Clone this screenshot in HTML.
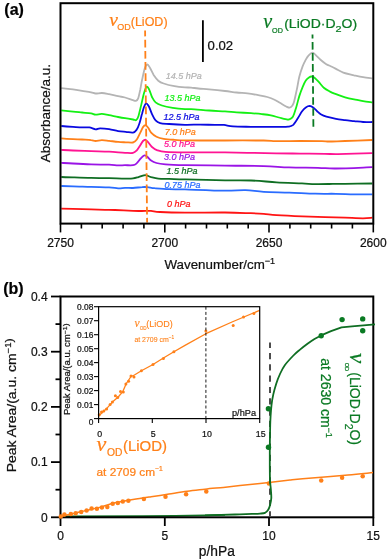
<!DOCTYPE html>
<html lang="en">
<head>
<meta charset="utf-8">
<title>Figure: IR spectra and peak areas</title>
<style>
html,body{margin:0;padding:0;background:#fff;}
body{width:388px;height:559px;overflow:hidden;}
svg{display:block;font-family:"Liberation Sans",Arial,Helvetica,sans-serif;color:#111;}
svg text{fill:currentColor;stroke:currentColor;stroke-width:.22px;}
</style>
</head>
<body>
<svg width="388" height="559" viewBox="0 0 388 559">
<rect x="0" y="0" width="388" height="559" fill="#ffffff"/>
<path d="M61.3,208.7 C63.2,208.7 68.0,208.8 73.0,208.9 C78.0,209.0 85.8,209.2 91.1,209.3 C96.4,209.5 101.0,209.7 105.0,209.8 C109.0,209.9 110.3,209.8 115.0,210.0 C119.7,210.2 128.5,210.7 133.0,210.9 C137.5,211.1 139.0,211.0 142.0,211.0 C145.0,211.0 148.0,210.7 151.0,210.9 C154.0,211.1 154.3,211.7 160.0,212.0 C165.7,212.3 174.2,212.6 185.0,212.7 C195.8,212.8 214.0,212.4 225.0,212.5 C236.0,212.6 244.4,213.0 250.8,213.2 C257.2,213.4 259.4,213.5 263.7,213.8 C268.0,214.1 270.1,214.7 276.5,215.1 C282.9,215.5 294.2,216.0 302.3,216.3 C310.4,216.6 317.9,216.9 325.0,217.1 C332.1,217.3 338.7,217.5 345.0,217.7 C351.3,217.9 358.4,218.3 363.0,218.3 C367.6,218.3 370.8,217.8 372.3,217.7" fill="none" stroke="#ff1414" stroke-width="1.8" stroke-linejoin="round" stroke-linecap="butt"/>
<path d="M61.3,186.0 C63.2,186.1 68.0,186.2 73.0,186.4 C78.0,186.6 85.1,186.7 91.1,186.9 C97.1,187.1 104.6,187.2 109.1,187.4 C113.6,187.6 115.4,188.2 118.1,188.3 C120.8,188.4 122.5,188.0 125.0,187.9 C127.5,187.8 130.2,188.1 133.0,188.0 C135.8,187.9 139.7,187.2 142.1,187.1 C144.5,186.9 145.4,186.9 147.5,187.1 C149.6,187.3 151.1,187.8 154.7,188.2 C158.3,188.5 163.9,189.0 169.0,189.2 C174.1,189.4 175.7,189.2 185.0,189.4 C194.3,189.7 214.9,190.6 225.0,190.7 C235.1,190.8 239.2,189.9 245.6,190.1 C252.0,190.3 256.4,191.5 263.7,191.9 C271.0,192.3 280.8,192.3 289.4,192.6 C298.0,192.9 307.4,193.5 315.2,193.7 C323.0,193.9 329.5,193.7 336.0,193.8 C342.5,193.9 347.9,194.2 354.0,194.3 C360.1,194.4 369.2,194.3 372.3,194.3" fill="none" stroke="#2a6cff" stroke-width="1.8" stroke-linejoin="round" stroke-linecap="butt"/>
<path d="M61.3,177.0 C63.2,177.1 68.0,177.2 73.0,177.3 C78.0,177.5 85.1,177.8 91.1,177.9 C97.1,178.1 103.4,178.1 109.1,178.2 C114.8,178.3 121.0,178.6 125.0,178.6 C129.0,178.6 130.8,178.7 133.0,178.4 C135.2,178.2 136.7,177.6 138.5,177.1 C140.3,176.6 142.6,175.6 143.9,175.3 C145.2,175.0 145.4,175.0 146.6,175.3 C147.8,175.6 149.1,176.6 151.1,177.1 C153.1,177.6 155.3,178.3 158.3,178.6 C161.3,178.9 164.6,178.8 169.0,178.9 C173.4,179.0 175.7,179.2 185.0,179.4 C194.3,179.6 214.0,180.1 225.0,180.3 C236.0,180.5 242.4,180.2 251.0,180.5 C259.6,180.8 268.0,181.8 276.5,182.3 C285.0,182.8 295.6,183.1 302.0,183.4 C308.4,183.7 310.5,184.0 315.0,184.1 C319.5,184.2 324.0,184.1 329.0,184.0 C334.0,183.9 337.8,183.9 345.0,183.8 C352.2,183.7 367.8,183.6 372.3,183.5" fill="none" stroke="#0f6e23" stroke-width="1.8" stroke-linejoin="round" stroke-linecap="butt"/>
<path d="M61.3,162.9 C63.2,163.0 68.0,163.2 73.0,163.5 C78.0,163.8 85.1,164.2 91.1,164.4 C97.1,164.6 104.6,164.5 109.1,164.7 C113.6,164.9 115.4,165.3 118.1,165.4 C120.8,165.5 122.5,165.2 125.0,165.2 C127.5,165.2 131.1,165.5 133.0,165.2 C134.9,164.9 135.4,164.4 136.6,163.4 C137.8,162.4 139.2,160.1 140.3,158.9 C141.4,157.7 142.2,156.8 143.0,156.2 C143.8,155.6 144.1,155.2 144.8,155.3 C145.6,155.4 146.4,156.1 147.5,157.0 C148.6,157.9 149.6,159.5 151.1,160.5 C152.6,161.5 154.1,162.3 156.5,163.0 C158.9,163.7 160.8,164.0 165.5,164.4 C170.2,164.8 175.1,165.0 185.0,165.2 C194.9,165.4 211.9,165.4 225.0,165.6 C238.1,165.8 253.0,165.8 263.7,166.1 C274.4,166.4 279.9,167.1 289.0,167.4 C298.1,167.7 310.2,167.6 318.0,167.8 C325.8,168.0 326.9,168.6 336.0,168.5 C345.1,168.4 366.2,167.4 372.3,167.2" fill="none" stroke="#9a14e6" stroke-width="1.8" stroke-linejoin="round" stroke-linecap="butt"/>
<path d="M61.3,149.9 C63.2,150.0 68.0,150.3 73.0,150.5 C78.0,150.7 85.1,151.0 91.1,151.2 C97.1,151.4 103.4,151.4 109.1,151.7 C114.8,152.0 121.0,152.6 125.0,152.8 C129.0,153.0 131.1,153.3 133.0,152.9 C134.9,152.5 135.4,151.9 136.6,150.6 C137.8,149.3 139.2,146.8 140.3,145.2 C141.4,143.6 142.1,141.9 143.0,141.0 C143.9,140.1 144.8,139.6 145.7,139.8 C146.6,140.1 147.3,141.3 148.4,142.5 C149.5,143.7 150.5,145.7 152.0,147.0 C153.5,148.3 155.2,149.5 157.4,150.3 C159.7,151.1 160.9,151.6 165.5,151.9 C170.1,152.2 175.1,152.3 185.0,152.4 C194.9,152.5 209.8,152.2 225.0,152.4 C240.2,152.6 263.5,153.1 276.0,153.3 C288.5,153.5 291.8,153.5 300.0,153.6 C308.2,153.7 318.7,153.7 325.0,153.8 C331.3,153.9 330.1,154.2 338.0,154.1 C345.9,154.0 366.6,153.3 372.3,153.2" fill="none" stroke="#ff1493" stroke-width="1.8" stroke-linejoin="round" stroke-linecap="butt"/>
<path d="M61.3,138.3 C63.2,138.5 69.5,139.0 73.0,139.2 C76.5,139.4 79.1,139.3 82.1,139.5 C85.1,139.7 88.8,139.8 91.1,140.1 C93.3,140.3 93.8,141.0 95.6,141.0 C97.4,141.0 99.7,140.1 101.9,140.1 C104.2,140.1 106.4,140.5 109.1,140.8 C111.8,141.1 115.3,141.7 118.1,141.9 C120.9,142.2 123.3,142.2 125.8,142.3 C128.3,142.4 131.2,142.9 133.0,142.5 C134.8,142.1 135.4,141.5 136.6,139.8 C137.8,138.2 139.2,134.7 140.3,132.6 C141.4,130.5 142.1,128.3 143.0,127.1 C143.9,125.9 144.8,125.1 145.7,125.3 C146.6,125.5 147.5,126.8 148.4,128.0 C149.3,129.2 149.8,131.2 151.1,132.6 C152.4,134.0 154.4,135.6 156.5,136.7 C158.6,137.8 160.7,138.4 163.7,138.9 C166.7,139.4 170.9,139.6 174.5,139.8 C178.1,140.1 180.8,140.3 185.0,140.4 C189.2,140.5 193.3,140.5 200.0,140.5 C206.7,140.5 214.4,140.5 225.0,140.5 C235.6,140.5 255.2,140.4 263.7,140.5 C272.2,140.6 269.9,141.0 276.0,141.1 C282.1,141.2 292.3,141.0 300.0,141.0 C307.7,141.0 317.2,141.0 322.0,141.1 C326.8,141.2 325.2,141.5 329.0,141.5 C332.8,141.5 337.8,141.2 345.0,141.0 C352.2,140.8 367.8,140.2 372.3,140.0" fill="none" stroke="#ff8019" stroke-width="1.8" stroke-linejoin="round" stroke-linecap="butt"/>
<path d="M61.3,126.0 C63.2,126.2 69.5,126.7 73.0,126.9 C76.5,127.1 79.4,127.3 82.1,127.4 C84.8,127.5 87.0,127.1 89.3,127.4 C91.5,127.7 93.8,129.2 95.6,129.3 C97.4,129.5 97.8,128.3 100.1,128.3 C102.3,128.3 106.1,128.6 109.1,129.1 C112.1,129.6 115.3,130.6 118.1,131.1 C120.9,131.6 123.3,131.6 125.8,131.8 C128.3,132.1 131.2,132.9 133.0,132.6 C134.8,132.3 135.5,131.3 136.6,129.8 C137.7,128.3 138.5,126.2 139.4,123.5 C140.3,120.8 141.3,116.3 142.1,113.6 C142.8,110.9 143.2,109.0 143.9,107.3 C144.6,105.6 145.4,103.4 146.2,103.3 C147.0,103.2 147.9,104.7 148.9,106.5 C149.9,108.3 150.9,111.8 152.0,114.1 C153.1,116.4 154.2,118.9 155.6,120.4 C156.9,121.9 157.8,122.5 160.1,123.1 C162.3,123.7 164.9,123.7 169.1,124.0 C173.2,124.3 179.8,124.7 185.0,124.8 C190.2,124.9 195.0,124.6 200.0,124.6 C205.0,124.6 211.0,124.9 215.0,124.9 C219.0,125.0 221.0,124.7 224.0,124.9 C227.0,125.2 228.5,126.1 233.0,126.4 C237.5,126.7 245.0,126.7 251.0,126.8 C257.0,126.9 264.3,126.8 269.0,126.8 C273.7,126.8 275.8,126.9 279.0,126.9 C282.2,126.9 285.7,127.0 288.0,126.7 C290.3,126.4 291.2,126.5 292.9,125.1 C294.6,123.6 296.5,120.3 298.0,118.0 C299.5,115.7 300.6,113.3 301.9,111.5 C303.2,109.7 304.5,108.3 305.8,107.4 C307.1,106.5 308.3,105.9 309.6,105.9 C310.9,106.0 312.2,106.8 313.5,107.7 C314.8,108.6 316.1,110.3 317.4,111.5 C318.7,112.7 319.7,113.7 321.2,114.6 C322.7,115.5 323.9,116.0 326.4,116.7 C328.9,117.4 332.9,118.3 336.0,118.9 C339.1,119.5 342.1,119.8 345.1,120.2 C348.1,120.6 351.1,120.8 354.1,121.1 C357.1,121.4 360.1,121.8 363.1,122.0 C366.1,122.2 370.8,122.0 372.3,122.0" fill="none" stroke="#0a0ae0" stroke-width="1.8" stroke-linejoin="round" stroke-linecap="butt"/>
<path d="M61.3,110.3 C63.2,110.5 69.5,111.2 73.0,111.6 C76.5,112.0 79.1,112.2 82.1,112.5 C85.1,112.8 88.8,113.1 91.1,113.4 C93.3,113.8 93.8,114.5 95.6,114.6 C97.4,114.7 99.7,113.8 101.9,113.9 C104.2,114.0 106.4,114.7 109.1,115.2 C111.8,115.7 115.4,116.5 118.1,117.0 C120.8,117.5 122.5,117.8 125.0,118.2 C127.5,118.6 131.1,119.2 133.0,119.5 C134.9,119.8 135.4,120.7 136.3,120.1 C137.2,119.5 137.7,118.4 138.5,115.9 C139.3,113.4 140.3,108.8 141.2,105.1 C142.1,101.3 143.0,96.5 143.9,93.4 C144.8,90.3 145.7,87.3 146.6,86.7 C147.5,86.1 148.4,88.1 149.3,89.8 C150.2,91.5 150.9,94.9 152.0,97.0 C153.1,99.1 153.9,101.0 155.6,102.4 C157.2,103.8 159.1,104.6 161.9,105.5 C164.8,106.4 168.8,107.2 172.7,107.8 C176.5,108.4 181.9,108.9 185.0,109.1 C188.1,109.3 187.1,108.9 191.1,109.1 C195.1,109.3 203.4,110.1 209.1,110.5 C214.8,110.9 220.4,111.1 225.0,111.4 C229.6,111.7 232.2,112.0 236.6,112.3 C240.9,112.6 246.9,112.9 251.1,113.2 C255.3,113.5 258.6,113.7 261.9,114.1 C265.2,114.5 268.0,114.8 270.9,115.4 C273.8,116.0 276.6,116.9 279.0,117.5 C281.4,118.1 283.8,118.8 285.5,119.1 C287.2,119.4 287.8,119.8 289.0,119.4 C290.2,119.0 291.7,118.7 292.9,116.7 C294.1,114.8 295.0,111.1 296.1,107.7 C297.2,104.3 298.2,99.5 299.3,96.1 C300.4,92.7 301.5,89.7 302.6,87.1 C303.7,84.5 304.7,82.2 305.8,80.6 C306.9,79.0 308.0,78.1 309.0,77.4 C310.0,76.7 310.8,76.4 311.8,76.5 C312.8,76.6 313.7,77.1 314.8,78.0 C315.9,78.9 317.2,80.3 318.7,81.9 C320.2,83.5 321.9,86.1 323.8,87.7 C325.7,89.3 328.0,90.5 330.0,91.6 C332.0,92.7 333.5,93.2 336.0,94.2 C338.5,95.2 342.1,96.5 345.1,97.3 C348.1,98.1 351.1,98.7 354.1,99.3 C357.1,99.9 360.1,100.6 363.1,101.1 C366.1,101.6 370.8,102.1 372.3,102.3" fill="none" stroke="#14f014" stroke-width="1.8" stroke-linejoin="round" stroke-linecap="butt"/>
<path d="M61.3,88.1 C63.2,88.3 69.5,89.0 73.0,89.4 C76.5,89.9 79.1,90.3 82.1,90.8 C85.1,91.3 88.8,91.8 91.1,92.3 C93.3,92.8 93.8,93.4 95.6,93.5 C97.4,93.6 99.7,92.9 101.9,93.0 C104.2,93.1 106.4,93.6 109.1,94.1 C111.8,94.6 115.4,95.6 118.1,96.2 C120.8,96.8 122.5,96.8 125.0,97.5 C127.5,98.2 131.1,99.6 132.9,100.2 C134.7,100.8 134.9,101.2 135.8,100.9 C136.7,100.6 137.5,100.1 138.2,98.3 C138.9,96.5 139.5,93.1 140.2,90.0 C140.8,86.9 141.3,83.4 142.1,79.8 C142.9,76.2 143.9,71.0 144.8,68.4 C145.7,65.9 146.5,64.5 147.4,64.5 C148.3,64.5 149.1,66.5 150.2,68.3 C151.3,70.1 152.5,73.2 153.8,75.3 C155.2,77.4 156.7,79.3 158.3,80.7 C160.0,82.1 161.0,82.6 163.7,83.5 C166.4,84.4 170.9,85.5 174.5,86.2 C178.1,86.9 182.2,87.2 185.0,87.4 C187.8,87.6 188.9,87.4 191.1,87.6 C193.3,87.8 195.3,88.2 198.3,88.5 C201.3,88.8 204.7,89.0 209.1,89.4 C213.5,89.8 220.4,90.5 225.0,91.0 C229.6,91.5 232.8,92.1 236.6,92.5 C240.3,92.9 243.9,93.0 247.5,93.4 C251.1,93.9 255.0,94.6 258.3,95.2 C261.6,95.8 264.6,96.2 267.3,97.0 C270.0,97.8 272.4,98.7 274.5,99.7 C276.6,100.7 277.9,101.7 279.9,102.8 C281.8,103.9 284.6,105.7 286.2,106.5 C287.8,107.3 288.7,107.9 289.7,107.7 C290.7,107.5 291.6,106.6 292.4,105.5 C293.1,104.4 293.5,103.9 294.2,101.2 C294.9,98.5 295.9,93.7 296.8,89.6 C297.7,85.5 298.3,80.7 299.3,76.8 C300.3,72.9 301.5,69.3 302.6,66.4 C303.7,63.5 304.8,61.5 305.8,59.6 C306.8,57.8 307.6,56.5 308.7,55.3 C309.8,54.1 311.4,52.6 312.6,52.6 C313.8,52.6 314.7,54.1 316.0,55.3 C317.3,56.5 318.9,58.4 320.5,59.8 C322.1,61.2 324.1,62.8 325.9,63.9 C327.7,65.0 329.6,65.7 331.3,66.5 C333.0,67.3 334.0,67.9 336.0,68.9 C338.0,69.9 340.3,71.5 343.3,72.6 C346.3,73.7 350.8,74.5 354.1,75.3 C357.4,76.0 360.1,76.6 363.1,77.1 C366.1,77.6 370.8,78.1 372.3,78.3" fill="none" stroke="#b4b4b4" stroke-width="1.8" stroke-linejoin="round" stroke-linecap="butt"/>
<line x1="145.1" y1="30.5" x2="147.1" y2="222.6" stroke="#ff8019" stroke-width="1.8" stroke-dasharray="7.7 3.43" stroke-dashoffset="1.83"/>
<line x1="312.5" y1="34.4" x2="313.4" y2="127.6" stroke="#0a7a23" stroke-width="1.8" stroke-dasharray="7.6 3.43" stroke-dashoffset="3.4"/>
<rect x="60.5" y="3.2" width="312.8" height="220.4" fill="none" stroke="#000" stroke-width="2"/>
<line x1="60.5" y1="223.6" x2="60.5" y2="232.4" stroke="#000" stroke-width="1.6"/>
<line x1="81.4" y1="223.6" x2="81.4" y2="228.5" stroke="#000" stroke-width="1.6"/>
<line x1="102.2" y1="223.6" x2="102.2" y2="228.5" stroke="#000" stroke-width="1.6"/>
<line x1="123.1" y1="223.6" x2="123.1" y2="228.5" stroke="#000" stroke-width="1.6"/>
<line x1="143.9" y1="223.6" x2="143.9" y2="228.5" stroke="#000" stroke-width="1.6"/>
<line x1="164.8" y1="223.6" x2="164.8" y2="232.4" stroke="#000" stroke-width="1.6"/>
<line x1="185.6" y1="223.6" x2="185.6" y2="228.5" stroke="#000" stroke-width="1.6"/>
<line x1="206.5" y1="223.6" x2="206.5" y2="228.5" stroke="#000" stroke-width="1.6"/>
<line x1="227.3" y1="223.6" x2="227.3" y2="228.5" stroke="#000" stroke-width="1.6"/>
<line x1="248.2" y1="223.6" x2="248.2" y2="228.5" stroke="#000" stroke-width="1.6"/>
<line x1="269.0" y1="223.6" x2="269.0" y2="232.4" stroke="#000" stroke-width="1.6"/>
<line x1="289.9" y1="223.6" x2="289.9" y2="228.5" stroke="#000" stroke-width="1.6"/>
<line x1="310.7" y1="223.6" x2="310.7" y2="228.5" stroke="#000" stroke-width="1.6"/>
<line x1="331.6" y1="223.6" x2="331.6" y2="228.5" stroke="#000" stroke-width="1.6"/>
<line x1="352.4" y1="223.6" x2="352.4" y2="228.5" stroke="#000" stroke-width="1.6"/>
<line x1="373.3" y1="223.6" x2="373.3" y2="232.4" stroke="#000" stroke-width="1.6"/>
<text x="60.5" y="246.7" font-size="12" text-anchor="middle">2750</text>
<text x="164.8" y="246.7" font-size="12" text-anchor="middle">2700</text>
<text x="269.0" y="246.7" font-size="12" text-anchor="middle">2650</text>
<text x="373.3" y="246.7" font-size="12" text-anchor="middle">2600</text>
<line x1="202.9" y1="20.2" x2="202.9" y2="61.9" stroke="#000" stroke-width="1.8"/>
<text x="207.6" y="50.1" font-size="12.2" textLength="25.6" lengthAdjust="spacingAndGlyphs">0.02</text>
<text x="4.3" y="15" font-size="16" font-weight="bold" color="#000">(a)</text>
<text x="3.2" y="293.8" font-size="16" font-weight="bold" color="#000">(b)</text>
<text x="164.5" y="268.6" font-size="13.3" textLength="110.6" lengthAdjust="spacingAndGlyphs">Wavenumber/cm<tspan font-size="9" dy="-5">−1</tspan></text>
<text transform="translate(50,162.3) rotate(-90)" font-size="13.5">Absorbance/a.u.</text>
<text x="165.7" y="78.95" font-size="9" font-style="italic" color="#b4b4b4">14.5 hPa</text>
<text x="164.4" y="101.45" font-size="9" font-style="italic" color="#14f014">13.5 hPa</text>
<text x="163.5" y="119.55" font-size="9" font-style="italic" color="#0a0ae0">12.5 hPa</text>
<text x="164.7" y="134.55" font-size="9" font-style="italic" color="#ff8019">7.0 hPa</text>
<text x="164.1" y="147.45" font-size="9" font-style="italic" color="#ff1493">5.0 hPa</text>
<text x="164.1" y="160.35" font-size="9" font-style="italic" color="#9a14e6">3.0 hPa</text>
<text x="166.4" y="174.35" font-size="9" font-style="italic" color="#0f6e23">1.5 hPa</text>
<text x="164.6" y="187.95" font-size="9" font-style="italic" color="#2a6cff">0.75 hPa</text>
<text x="166.9" y="206.85" font-size="9" font-style="italic" color="#ff1414">0 hPa</text>
<text x="109.2" y="26.3" color="#ff8019" font-size="12.5"><tspan font-family="'Liberation Serif',serif" font-style="italic" font-size="19.5">ν</tspan><tspan font-size="9" dy="3.7" dx="-0.6">OD</tspan><tspan dy="-3.7">(LiOD)</tspan></text>
<g transform="translate(263.2,27.6)"><text x="0" y="0" color="#0a7a23" font-family="'Liberation Serif',serif" font-style="italic" font-size="20">ν</text><text x="8.9" y="5.2" color="#0a7a23" font-size="7.2">OD</text><g transform="translate(21.0,0) scale(1.13,1)"><text x="0" y="0" color="#0a7a23" font-size="12.4">(LiOD·D<tspan font-size="9.6" dy="4.6">2</tspan><tspan dy="-4.6">O)</tspan></text></g></g>
<path d="M61,516.3 L143,516.2 L175,515.9 L205,515.3 L225,514.8" fill="none" stroke="#0f6e23" stroke-width="1.8"/>
<rect x="60.5" y="296.5" width="312.8" height="220.8" fill="none" stroke="#000" stroke-width="2"/>
<line x1="51.0" y1="517.3" x2="60.5" y2="517.3" stroke="#000" stroke-width="1.8"/>
<line x1="55.5" y1="489.7" x2="60.5" y2="489.7" stroke="#000" stroke-width="1.8"/>
<line x1="51.0" y1="462.1" x2="60.5" y2="462.1" stroke="#000" stroke-width="1.8"/>
<line x1="55.5" y1="434.5" x2="60.5" y2="434.5" stroke="#000" stroke-width="1.8"/>
<line x1="51.0" y1="406.9" x2="60.5" y2="406.9" stroke="#000" stroke-width="1.8"/>
<line x1="55.5" y1="379.3" x2="60.5" y2="379.3" stroke="#000" stroke-width="1.8"/>
<line x1="51.0" y1="351.7" x2="60.5" y2="351.7" stroke="#000" stroke-width="1.8"/>
<line x1="55.5" y1="324.1" x2="60.5" y2="324.1" stroke="#000" stroke-width="1.8"/>
<line x1="51.0" y1="296.5" x2="60.5" y2="296.5" stroke="#000" stroke-width="1.8"/>
<text x="47.6" y="521.6" font-size="12" text-anchor="end">0</text>
<text x="47.6" y="466.4" font-size="12" text-anchor="end">0.1</text>
<text x="47.6" y="411.2" font-size="12" text-anchor="end">0.2</text>
<text x="47.6" y="356.0" font-size="12" text-anchor="end">0.3</text>
<text x="47.6" y="300.8" font-size="12" text-anchor="end">0.4</text>
<line x1="60.5" y1="517.3" x2="60.5" y2="526" stroke="#000" stroke-width="1.8"/>
<text x="60.5" y="539.5" font-size="12" text-anchor="middle">0</text>
<line x1="164.8" y1="517.3" x2="164.8" y2="526" stroke="#000" stroke-width="1.8"/>
<text x="164.8" y="539.5" font-size="12" text-anchor="middle">5</text>
<line x1="269.0" y1="517.3" x2="269.0" y2="526" stroke="#000" stroke-width="1.8"/>
<text x="269.0" y="539.5" font-size="12" text-anchor="middle">10</text>
<line x1="373.3" y1="517.3" x2="373.3" y2="526" stroke="#000" stroke-width="1.8"/>
<text x="373.3" y="539.5" font-size="12" text-anchor="middle">15</text>
<path d="M60.5,516.5 C64.0,515.7 74.4,513.2 81.3,511.6 C88.2,510.0 96.4,508.2 102.0,506.7 C107.6,505.2 109.8,504.0 115.0,502.8 C120.2,501.6 127.0,500.6 133.0,499.6 C139.0,498.6 145.1,497.7 151.1,496.8 C157.1,495.9 163.0,494.9 169.0,494.0 C175.0,493.1 181.2,492.1 187.2,491.3 C193.2,490.5 199.0,489.9 205.0,489.2 C211.0,488.5 217.5,488.0 223.3,487.4 C229.1,486.8 234.7,486.2 240.0,485.6 C245.3,485.0 250.2,484.4 255.0,483.9 C259.8,483.4 263.1,483.1 268.9,482.5 C274.7,481.9 282.8,480.9 290.0,480.1 C297.2,479.3 302.3,478.7 312.0,477.9 C321.7,477.1 337.8,476.0 348.0,475.1 C358.2,474.2 368.8,473.0 373.0,472.6" fill="none" stroke="#ff8019" stroke-width="1.5"/>
<circle cx="60.8" cy="516.4" r="2.25" fill="#ff8019"/>
<circle cx="64.4" cy="514.6" r="2.25" fill="#ff8019"/>
<circle cx="70.9" cy="514.0" r="2.25" fill="#ff8019"/>
<circle cx="75.7" cy="513.3" r="2.25" fill="#ff8019"/>
<circle cx="81.2" cy="511.9" r="2.25" fill="#ff8019"/>
<circle cx="86.6" cy="510.6" r="2.25" fill="#ff8019"/>
<circle cx="91.6" cy="508.6" r="2.25" fill="#ff8019"/>
<circle cx="96.9" cy="508.8" r="2.25" fill="#ff8019"/>
<circle cx="101.9" cy="507.4" r="2.25" fill="#ff8019"/>
<circle cx="107.3" cy="507.0" r="2.25" fill="#ff8019"/>
<circle cx="112.7" cy="503.8" r="2.25" fill="#ff8019"/>
<circle cx="117.8" cy="502.9" r="2.25" fill="#ff8019"/>
<circle cx="122.8" cy="501.5" r="2.25" fill="#ff8019"/>
<circle cx="128.4" cy="500.7" r="2.25" fill="#ff8019"/>
<circle cx="143.9" cy="498.9" r="2.25" fill="#ff8019"/>
<circle cx="165.5" cy="496.7" r="2.25" fill="#ff8019"/>
<circle cx="186.1" cy="494.2" r="2.25" fill="#ff8019"/>
<circle cx="206.3" cy="491.6" r="2.25" fill="#ff8019"/>
<circle cx="268.9" cy="483.4" r="2.25" fill="#ff8019"/>
<circle cx="321.2" cy="480.6" r="2.25" fill="#ff8019"/>
<circle cx="342.1" cy="477.7" r="2.25" fill="#ff8019"/>
<circle cx="362.7" cy="476.2" r="2.25" fill="#ff8019"/>
<line x1="270" y1="342.5" x2="270" y2="516" stroke="#000" stroke-width="1.4" stroke-dasharray="6.2 5.1" stroke-dashoffset="0.8"/>
<path d="M205.0,515.3 C210.0,515.2 227.2,514.7 235.0,514.5 C242.8,514.3 247.8,514.0 252.0,513.9 C256.2,513.8 257.8,513.8 260.0,513.6 C262.2,513.4 263.6,513.4 265.0,512.8 C266.4,512.2 267.3,511.2 268.2,509.8 C269.1,508.4 269.7,506.5 270.2,504.5 C270.7,502.5 271.2,500.4 271.3,498.0 C271.4,495.6 271.1,493.0 270.9,490.0 C270.7,487.0 270.2,485.0 270.0,480.0 C269.8,475.0 269.8,466.7 269.8,460.0 C269.8,453.3 269.8,445.8 269.9,440.0 C270.0,434.2 270.1,429.0 270.2,425.0 C270.3,421.0 270.4,419.2 270.6,415.9 C270.8,412.6 271.1,408.7 271.5,405.1 C271.9,401.5 272.5,398.0 273.3,394.4 C274.1,390.8 275.2,387.0 276.3,383.5 C277.4,380.0 278.8,376.6 280.2,373.5 C281.6,370.4 282.6,368.2 284.8,365.2 C287.0,362.2 290.9,358.1 293.4,355.5 C295.9,352.9 297.6,351.6 300.0,349.6 C302.4,347.7 305.1,345.6 307.5,343.8 C309.9,342.0 312.1,340.4 314.5,339.0 C316.9,337.6 320.5,335.8 321.7,335.2 L331,331.2 L341.5,327.4 L352,326.3 L375,324.4" fill="none" stroke="#0f6e23" stroke-width="1.8" stroke-linejoin="round"/>
<circle cx="268.5" cy="447.3" r="2.7" fill="#0a7a23"/>
<circle cx="268.4" cy="408.7" r="2.7" fill="#0a7a23"/>
<circle cx="321.2" cy="335.8" r="2.7" fill="#0a7a23"/>
<circle cx="342.1" cy="319.6" r="2.7" fill="#0a7a23"/>
<circle cx="362.7" cy="318.9" r="2.7" fill="#0a7a23"/>
<circle cx="362.7" cy="330.8" r="2.7" fill="#0a7a23"/>
<text x="198.8" y="555.7" font-size="13.8">p/hPa</text>
<text transform="translate(15.6,472.3) rotate(-90)" font-size="12.6" textLength="134" lengthAdjust="spacingAndGlyphs">Peak Area/(a.u. cm<tspan font-size="8.5" dy="-5">−1</tspan><tspan dy="2" font-size="11.3">)</tspan></text>
<text x="96.6" y="451.3" color="#ff8019" font-size="15"><tspan font-family="'Liberation Serif',serif" font-style="italic" font-size="22">ν</tspan><tspan font-size="10.3" dy="4.4" dx="0.6">OD</tspan><tspan dy="-4.4" dx="0.5">(LiOD)</tspan></text>
<text x="96.5" y="475.5" color="#ff8019" font-size="11.5" textLength="66.3" lengthAdjust="spacingAndGlyphs">at 2709 cm<tspan font-size="6.5" dy="-5">−1</tspan></text>
<g transform="translate(350.3,353.0) rotate(90)"><text x="0" y="0" color="#0a7a23" font-family="'Liberation Serif',serif" font-style="italic" font-size="23">ν</text><text x="9.7" y="5.2" color="#0a7a23" font-size="5.7">OD</text><text x="19.3" y="0" color="#0a7a23" font-size="14">(LiOD·D<tspan font-size="10.5" dy="5">2</tspan><tspan dy="-5">O)</tspan></text></g>
<g transform="translate(320.9,358.3) rotate(90)"><text x="0" y="0" color="#0a7a23" font-size="14">at 2630 cm<tspan font-size="9" dy="-5.5">−1</tspan></text></g>
<rect x="98.6" y="306.7" width="161.1" height="111.9" fill="#fff" stroke="none"/>
<path d="M98.6,416.0 L106.6,408.6 L112.4,402.1 L118.2,397.0 L122.8,391.6 L126.3,383.5 L131.0,376.5 L134.4,375.0 L141.4,370.8 L153.0,364.5 L163.4,358.0 L173.9,351.7 L185.0,345.4 L205.9,333.7 L232.0,322.0 L259.6,310.4" fill="none" stroke="#ff8019" stroke-width="1.3" stroke-linejoin="round"/>
<circle cx="99.2" cy="414.8" r="1.5" fill="#ff8019"/>
<circle cx="101.5" cy="412" r="1.5" fill="#ff8019"/>
<circle cx="103.8" cy="410.9" r="1.5" fill="#ff8019"/>
<circle cx="106.6" cy="409" r="1.5" fill="#ff8019"/>
<circle cx="110.1" cy="404.4" r="1.5" fill="#ff8019"/>
<circle cx="112.4" cy="402.1" r="1.5" fill="#ff8019"/>
<circle cx="115.4" cy="395.8" r="1.5" fill="#ff8019"/>
<circle cx="117.7" cy="397.4" r="1.5" fill="#ff8019"/>
<circle cx="120.5" cy="391.6" r="1.5" fill="#ff8019"/>
<circle cx="123.3" cy="392.1" r="1.5" fill="#ff8019"/>
<circle cx="125.9" cy="384" r="1.5" fill="#ff8019"/>
<circle cx="128.6" cy="381.2" r="1.5" fill="#ff8019"/>
<circle cx="131" cy="376.1" r="1.5" fill="#ff8019"/>
<circle cx="134" cy="377" r="1.5" fill="#ff8019"/>
<circle cx="141.4" cy="370.7" r="1.5" fill="#ff8019"/>
<circle cx="153" cy="364.5" r="1.5" fill="#ff8019"/>
<circle cx="163.4" cy="358.5" r="1.5" fill="#ff8019"/>
<circle cx="173.9" cy="351.7" r="1.5" fill="#ff8019"/>
<circle cx="205.9" cy="331.1" r="1.5" fill="#ff8019"/>
<circle cx="233.2" cy="325.4" r="1.5" fill="#ff8019"/>
<circle cx="243.5" cy="316.9" r="1.5" fill="#ff8019"/>
<circle cx="253.9" cy="313.5" r="1.5" fill="#ff8019"/>
<line x1="205.9" y1="306.7" x2="205.9" y2="418.6" stroke="#000" stroke-width="0.9" stroke-dasharray="3 2.2"/>
<rect x="98.6" y="306.7" width="161.1" height="111.9" fill="none" stroke="#000" stroke-width="1.2"/>
<line x1="94" y1="418.6" x2="98.6" y2="418.6" stroke="#000" stroke-width="1.1"/>
<text x="93.3" y="425.4" font-size="8.4" text-anchor="end">0</text>
<line x1="94" y1="404.6" x2="98.6" y2="404.6" stroke="#000" stroke-width="1.1"/>
<text x="93.3" y="407.6" font-size="8.4" text-anchor="end">0.01</text>
<line x1="94" y1="390.6" x2="98.6" y2="390.6" stroke="#000" stroke-width="1.1"/>
<text x="93.3" y="393.6" font-size="8.4" text-anchor="end">0.02</text>
<line x1="94" y1="376.6" x2="98.6" y2="376.6" stroke="#000" stroke-width="1.1"/>
<text x="93.3" y="379.6" font-size="8.4" text-anchor="end">0.03</text>
<line x1="94" y1="362.6" x2="98.6" y2="362.6" stroke="#000" stroke-width="1.1"/>
<text x="93.3" y="365.6" font-size="8.4" text-anchor="end">0.04</text>
<line x1="94" y1="348.7" x2="98.6" y2="348.7" stroke="#000" stroke-width="1.1"/>
<text x="93.3" y="351.7" font-size="8.4" text-anchor="end">0.05</text>
<line x1="94" y1="334.7" x2="98.6" y2="334.7" stroke="#000" stroke-width="1.1"/>
<text x="93.3" y="337.7" font-size="8.4" text-anchor="end">0.16</text>
<line x1="94" y1="320.7" x2="98.6" y2="320.7" stroke="#000" stroke-width="1.1"/>
<text x="93.3" y="323.7" font-size="8.4" text-anchor="end">0.07</text>
<line x1="94" y1="306.7" x2="98.6" y2="306.7" stroke="#000" stroke-width="1.1"/>
<text x="93.3" y="309.7" font-size="8.4" text-anchor="end">0.08</text>
<line x1="98.6" y1="418.6" x2="98.6" y2="423" stroke="#000" stroke-width="1.1"/>
<text x="99.6" y="436.6" font-size="8.8" text-anchor="middle">0</text>
<line x1="152.3" y1="418.6" x2="152.3" y2="423" stroke="#000" stroke-width="1.1"/>
<text x="153.3" y="436.6" font-size="8.8" text-anchor="middle">5</text>
<line x1="206.0" y1="418.6" x2="206.0" y2="423" stroke="#000" stroke-width="1.1"/>
<text x="207.0" y="436.6" font-size="8.8" text-anchor="middle">10</text>
<line x1="259.7" y1="418.6" x2="259.7" y2="423" stroke="#000" stroke-width="1.1"/>
<text x="260.7" y="436.6" font-size="8.8" text-anchor="middle">15</text>
<text x="232" y="416.2" font-size="9.2">p/hPa</text>
<text transform="translate(70.3,415.1) rotate(-90)" font-size="8.2" textLength="91.6" lengthAdjust="spacingAndGlyphs">Peak Area/(a.u. cm<tspan font-size="6" dy="-3.2">−1</tspan><tspan dy="1.2" font-size="7.4">)</tspan></text>
<text x="134.4" y="326.8" color="#ff8019" font-family="'Liberation Serif',serif" font-style="italic" font-size="11.5" style="stroke-width:.1px">ν</text><text x="139.7" y="329.8" color="#ff8019" font-size="4.6" style="stroke-width:.1px">OD</text><text x="146.2" y="326.8" color="#ff8019" font-size="8.6" textLength="26.6" lengthAdjust="spacingAndGlyphs" style="stroke-width:.1px">(LiOD)</text>
<text x="134.4" y="341.7" color="#ff8019" font-size="7" style="stroke-width:.1px" textLength="39.8" lengthAdjust="spacingAndGlyphs">at 2709 cm<tspan font-size="4.8" dy="-2.6">−1</tspan></text>
</svg>
</body>
</html>
